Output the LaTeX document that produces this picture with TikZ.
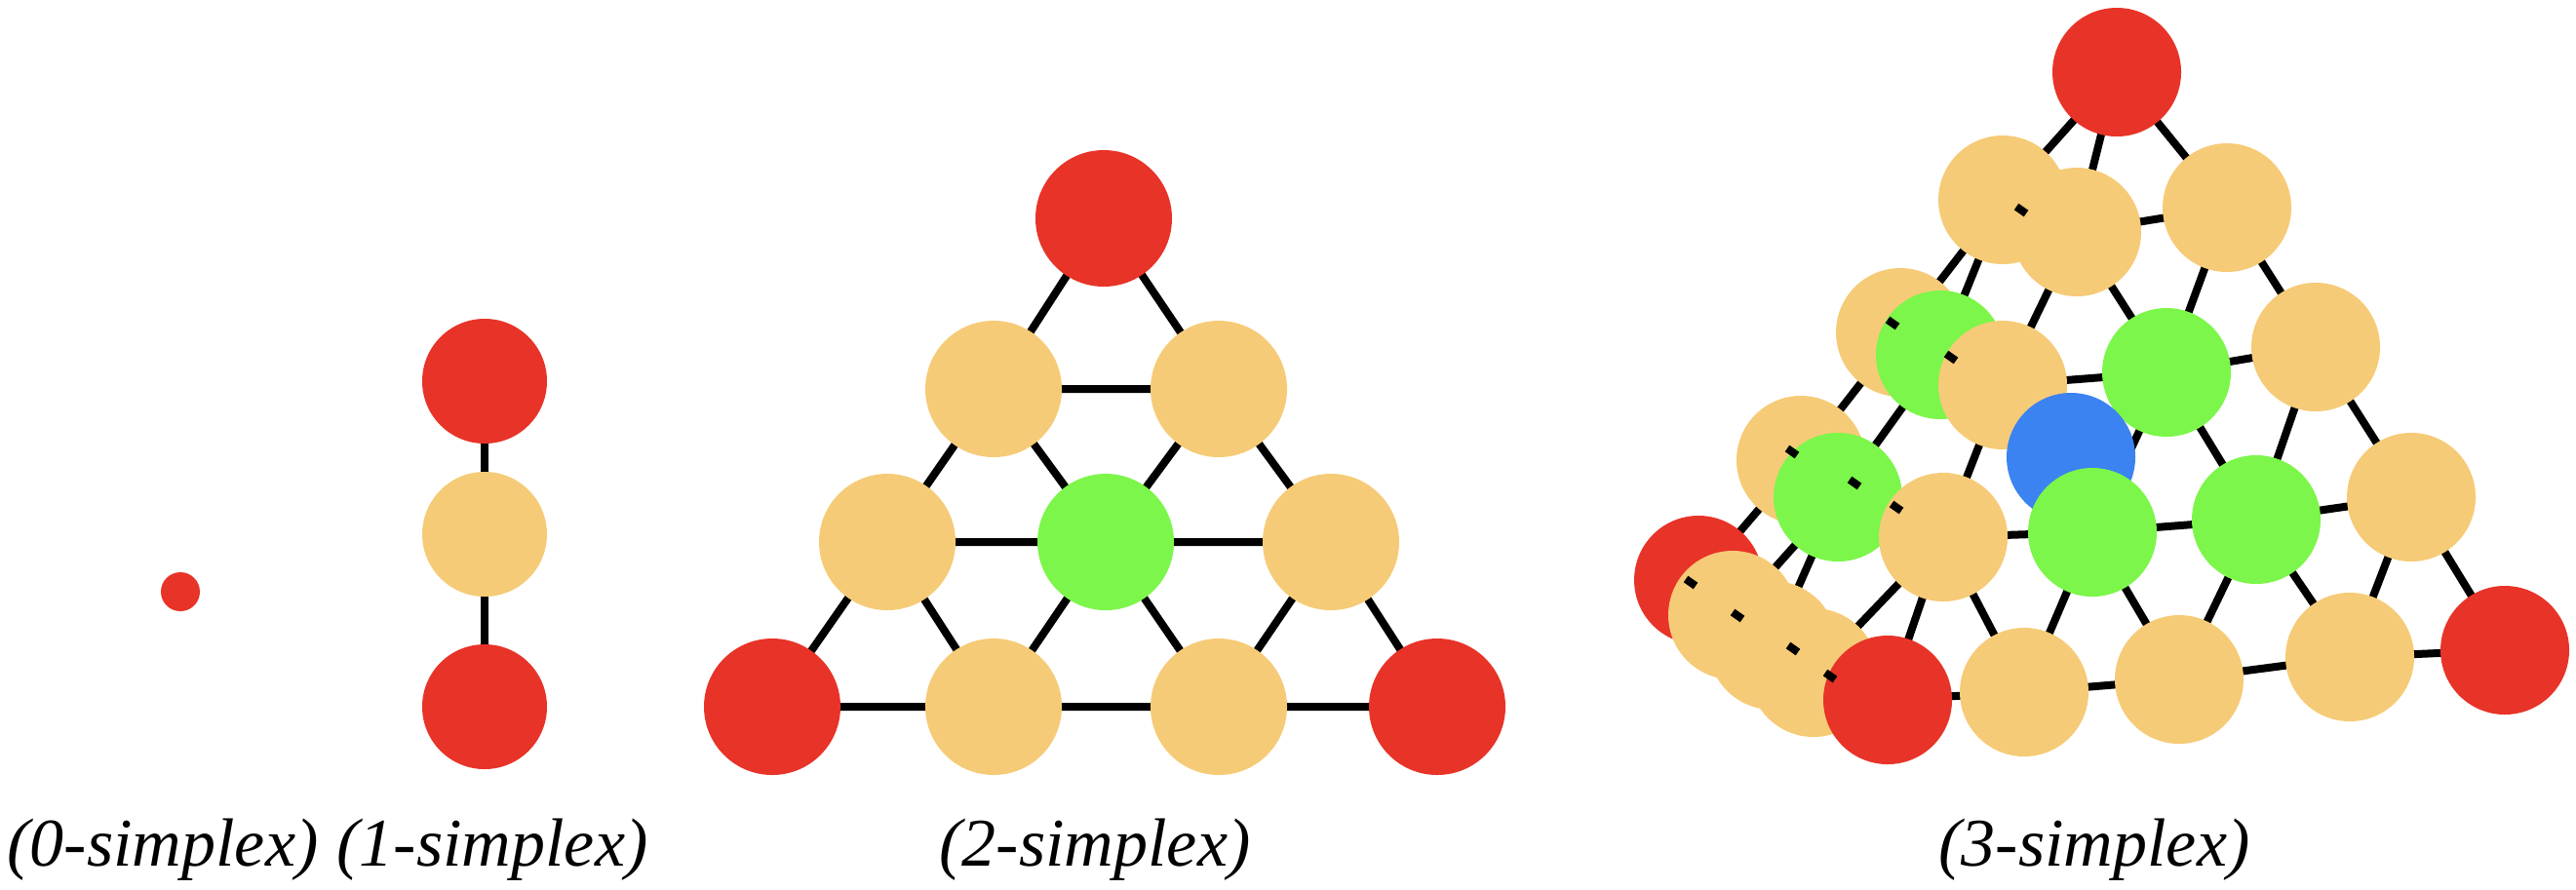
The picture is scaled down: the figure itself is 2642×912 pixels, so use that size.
\documentclass[tikz,border=0pt]{standalone}
\usepackage{fontspec}
\setmainfont{Liberation Serif}
\begin{document}
\begin{tikzpicture}[x=0.5pt,y=-0.5pt,
  v/.style={circle,inner sep=0pt,minimum size=70pt},
  w/.style={circle,inner sep=0pt,minimum size=66pt},
  rd/.style={fill=cred},tn/.style={fill=ctan},gr/.style={fill=cgreen},bl/.style={fill=cblue},
  ed/.style={line width=4pt,black},
  lab/.style={font=\fontsize{35}{40}\selectfont\itshape}]
\definecolor{cred}{RGB}{232,51,40}
\definecolor{ctan}{RGB}{246,203,119}
\definecolor{cgreen}{RGB}{124,246,74}
\definecolor{cblue}{RGB}{59,131,240}
\useasboundingbox (0,0) rectangle (2642,912);
% 0-simplex
\node[circle,inner sep=0pt,minimum size=20pt,rd] (z) at (185,607) {};
% 1-simplex
\coordinate (p1) at (497,391); \coordinate (p2) at (497,548); \coordinate (p3) at (497,725);
\draw[ed] (p1)--(p2)--(p3);
\node[v,minimum size=64pt,rd] (o1) at (p1) {};
\node[v,minimum size=64pt,tn] (o2) at (p2) {};
\node[v,minimum size=64pt,rd] (o3) at (p3) {};
% 2-simplex
\coordinate (a1) at (1132,224);
\coordinate (b1) at (1019,399); \coordinate (b2) at (1250,399);
\coordinate (c1) at (910,556); \coordinate (c2) at (1134,556); \coordinate (c3) at (1365,556);
\coordinate (d1) at (792,725); \coordinate (d2) at (1019,725); \coordinate (d3) at (1250,725); \coordinate (d4) at (1474,725);
\draw[ed] (a1)--(b1) (a1)--(b2) (b1)--(b2) (b1)--(c1) (b1)--(c2) (b2)--(c2) (b2)--(c3)
 (c1)--(c2)--(c3) (c1)--(d1) (c1)--(d2) (c2)--(d2) (c2)--(d3) (c3)--(d3) (c3)--(d4) (d1)--(d2)--(d3)--(d4);
\foreach \p/\s in {a1/rd,b1/tn,b2/tn,c1/tn,c2/gr,c3/tn,d1/rd,d2/tn,d3/tn,d4/rd}
  \node[v,\s] (n\p) at (\p) {};
% 3-simplex
\coordinate (R) at (2171,74);
\coordinate (A) at (2054,205); \coordinate (B) at (2130,238); \coordinate (C) at (2284,213);
\coordinate (D) at (1949,341); \coordinate (E) at (1990,364); \coordinate (F) at (2054,395);
\coordinate (G) at (2222,382); \coordinate (H) at (2375,356); \coordinate (I) at (2124,469);
\coordinate (J) at (1847,472); \coordinate (K) at (1885,510); \coordinate (L) at (1993,551);
\coordinate (M) at (2146,546); \coordinate (N) at (2314,533); \coordinate (O) at (2473,510);
\coordinate (P) at (1742,595); \coordinate (Q) at (1777,631); \coordinate (Q2) at (1818,662); \coordinate (Q3) at (1860,690);
\coordinate (S) at (1936,718); \coordinate (T) at (2076,710); \coordinate (U) at (2235,697);
\coordinate (V) at (2410,674); \coordinate (W) at (2569,667);
\draw[ed] (R)--(A) (R)--(B) (R)--(C) (B)--(C) (B)--(F) (B)--(G) (C)--(G) (C)--(H)
 (F)--(G)--(H) (G)--(M) (G)--(N) (H)--(N) (H)--(O) (F)--(M) (L)--(M)--(N)--(O) (O)--(W)
 (L)--(T) (M)--(T) (M)--(U) (N)--(U) (N)--(V) (O)--(V) (S)--(T)--(U)--(V)--(W) (L)--(S)
 (A)--(D) (A)--(E) (D)--(E) (D)--(J) (E)--(K) (J)--(K) (J)--(P) (K)--(Q) (K)--(Q2) (L)--(Q3) (F)--(L) (E)--(F) (K)--(L);
\foreach \p/\s in {R/rd,A/tn,B/tn,C/tn,D/tn,E/gr,F/tn,H/tn,G/gr,J/tn,K/gr,I/bl,L/tn,M/gr,N/gr,O/tn,P/rd,Q/tn,Q2/tn,Q3/tn,S/rd,T/tn,U/tn,V/tn,W/rd}
  \node[w,\s] (m\p) at (\p) {};
\foreach \x/\y in {2068/212,1936/328,1996/363,1833/460,1897/492,1940/517,1729/594,1777/628,1834/662,1872/690}
  \draw[ed] (\x,\y) -- ++(10,7);
% labels
\node[lab] (l0) at (167,872) {(0-simplex)};
\node[lab] (l1) at (505,872) {(1-simplex)};
\node[lab] (l2) at (1123,872) {(2-simplex)};
\node[lab] (l3) at (2148,872) {(3-simplex)};
\end{tikzpicture}
\end{document}
